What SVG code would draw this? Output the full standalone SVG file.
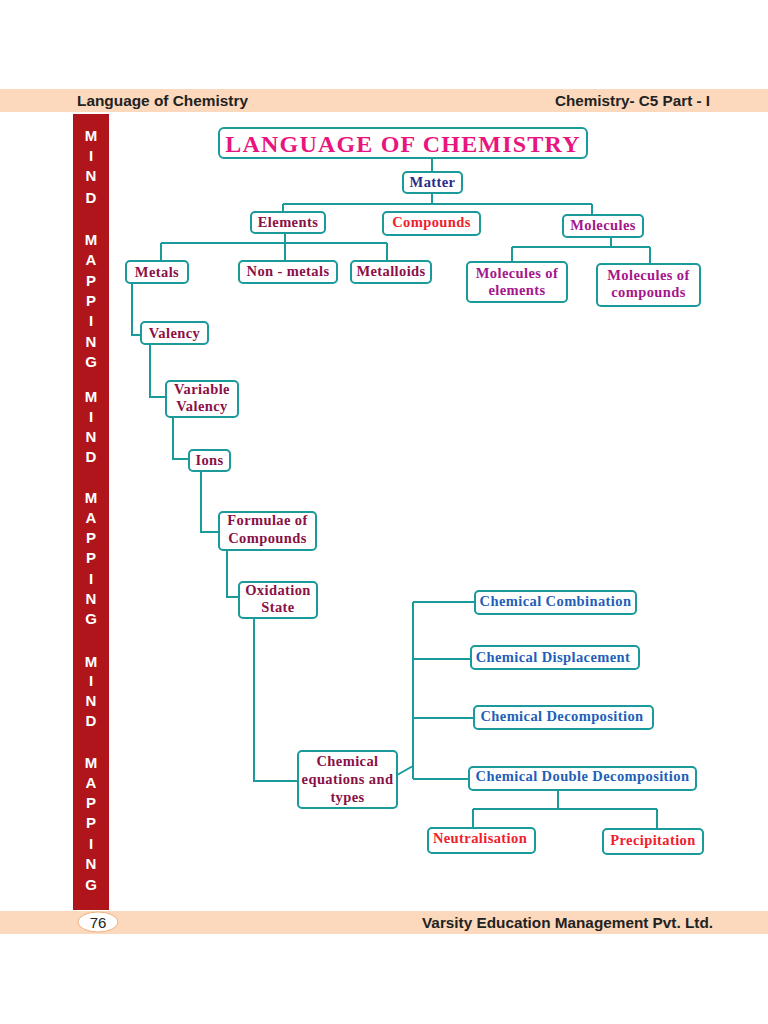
<svg xmlns="http://www.w3.org/2000/svg" width="768" height="1024" viewBox="0 0 768 1024">
<style>
.bx{fill:#fff;stroke:#1a9a9a;stroke-width:2}
.ln{fill:none;stroke:#1a9a9a;stroke-width:2}
.t{font-family:"Liberation Serif","Times New Roman",serif;font-weight:bold;font-size:14.5px;letter-spacing:0.4px;text-anchor:middle}
.mr{fill:#8b1045}
.rd{fill:#f0202c}
.mg{fill:#a5168c}
.bl{fill:#1f5fb8}
.nv{fill:#2b2b8c}
.hd{font-family:"Liberation Sans",Arial,sans-serif;font-weight:bold;font-size:15px;fill:#222}
.sd{font-family:"Liberation Sans",Arial,sans-serif;font-weight:bold;font-size:15px;fill:#fff;text-anchor:middle}
</style>
<rect width="768" height="1024" fill="#fff"/>
<rect x="0" y="89" width="768" height="23" fill="#fcd9bc"/>
<text class="hd" x="77" y="106" textLength="171" lengthAdjust="spacingAndGlyphs">Language of Chemistry</text>
<text class="hd" x="555" y="106" textLength="155" lengthAdjust="spacingAndGlyphs">Chemistry- C5 Part - I</text>
<rect x="0" y="911" width="768" height="23" fill="#fcd9bc"/>
<ellipse cx="98" cy="922" rx="20" ry="10" fill="#fff" stroke="#f0b080" stroke-width="1"/>
<text class="hd" x="98" y="928" text-anchor="middle" style="font-weight:normal">76</text>
<text class="hd" x="422" y="928" textLength="291" lengthAdjust="spacingAndGlyphs">Varsity Education Management Pvt. Ltd.</text>
<g id="sidebar">
<rect x="73" y="114" width="36" height="796" fill="#b0151b"/>
<text class="sd" x="91" y="141">M</text><text class="sd" x="91" y="161">I</text><text class="sd" x="91" y="181">N</text><text class="sd" x="91" y="203">D</text>
<text class="sd" x="91" y="245">M</text><text class="sd" x="91" y="265">A</text><text class="sd" x="91" y="286">P</text><text class="sd" x="91" y="306">P</text><text class="sd" x="91" y="326">I</text><text class="sd" x="91" y="347">N</text><text class="sd" x="91" y="367">G</text>
<text class="sd" x="91" y="402">M</text><text class="sd" x="91" y="422">I</text><text class="sd" x="91" y="442">N</text><text class="sd" x="91" y="462">D</text>
<text class="sd" x="91" y="503">M</text><text class="sd" x="91" y="523">A</text><text class="sd" x="91" y="543">P</text><text class="sd" x="91" y="563">P</text><text class="sd" x="91" y="584">I</text><text class="sd" x="91" y="604">N</text><text class="sd" x="91" y="624">G</text>
<text class="sd" x="91" y="667">M</text><text class="sd" x="91" y="686">I</text><text class="sd" x="91" y="706">N</text><text class="sd" x="91" y="726">D</text>
<text class="sd" x="91" y="768">M</text><text class="sd" x="91" y="788">A</text><text class="sd" x="91" y="808">P</text><text class="sd" x="91" y="828">P</text><text class="sd" x="91" y="849">I</text><text class="sd" x="91" y="869">N</text><text class="sd" x="91" y="890">G</text>
</g>
<g id="connectors">
<path class="ln" d="M432 158V172M432 193V204M283 204H592M283 204V212M592 204V215"/>
<path class="ln" d="M611 237V247M512 247H650M512 247V262M650 247V264"/>
<path class="ln" d="M285 233V243M161 243H387M161 243V261M285 243V261M387 243V261"/>
<path class="ln" d="M132 283V335H141"/>
<path class="ln" d="M150 344V397H166"/>
<path class="ln" d="M173 417V459H189"/>
<path class="ln" d="M201 471V532H219"/>
<path class="ln" d="M227 550V597H239"/>
<path class="ln" d="M254 618V781H298"/>
<path class="ln" d="M397 775L413 766M413 602V779M413 602H475M413 718H474M413 779H469"/>
<path class="ln" d="M413 659H471" stroke-width="1.2" stroke="#5cbcbc"/>
<path class="ln" d="M558 790V809M473 809H657M473 809V828M657 809V829"/>
</g>
<g id="title"><rect class="bx" x="219" y="128" width="368" height="30" rx="5"/><text class="t" x="403" y="152" fill="#e8157f" style="font-size:24px;letter-spacing:1.2px">LANGUAGE OF CHEMISTRY</text></g>
<g id="matter"><rect class="bx" x="403" y="172" width="59" height="21" rx="4"/><text class="t nv" x="432.5" y="187">Matter</text></g>
<g id="elements"><rect class="bx" x="251" y="212" width="74" height="21" rx="4"/><text class="t mr" x="288" y="227">Elements</text></g>
<g id="compounds"><rect class="bx" x="383" y="212" width="97" height="23" rx="4"/><text class="t rd" x="431.5" y="227">Compounds</text></g>
<g id="molecules"><rect class="bx" x="563" y="215" width="80" height="22" rx="4"/><text class="t mg" x="603" y="230">Molecules</text></g>
<g id="mol-elements"><rect class="bx" x="467" y="262" width="100" height="40" rx="4"/><text class="t mg" x="517" y="278">Molecules of</text><text class="t mg" x="517" y="295">elements</text></g>
<g id="mol-compounds"><rect class="bx" x="597" y="264" width="103" height="42" rx="4"/><text class="t mg" x="648.5" y="280">Molecules of</text><text class="t mg" x="648.5" y="297">compounds</text></g>
<g id="metals"><rect class="bx" x="126" y="261" width="62" height="22" rx="4"/><text class="t mr" x="157" y="277">Metals</text></g>
<g id="nonmetals"><rect class="bx" x="239" y="261" width="98" height="22" rx="4"/><text class="t mr" x="288" y="276">Non - metals</text></g>
<g id="metalloids"><rect class="bx" x="351" y="261" width="80" height="22" rx="4"/><text class="t mr" x="391" y="276">Metalloids</text></g>
<g id="valency"><rect class="bx" x="141" y="322" width="67" height="22" rx="4"/><text class="t mr" x="174.5" y="338">Valency</text></g>
<g id="variable-valency"><rect class="bx" x="166" y="381" width="72" height="36" rx="4"/><text class="t mr" x="202" y="394">Variable</text><text class="t mr" x="202" y="411">Valency</text></g>
<g id="ions"><rect class="bx" x="189" y="450" width="41" height="21" rx="4"/><text class="t mr" x="209.5" y="465">Ions</text></g>
<g id="formulae"><rect class="bx" x="219" y="512" width="97" height="38" rx="4"/><text class="t mr" x="267.5" y="525">Formulae of</text><text class="t mr" x="267.5" y="543">Compounds</text></g>
<g id="oxidation"><rect class="bx" x="239" y="582" width="78" height="36" rx="4"/><text class="t mr" x="278" y="595">Oxidation</text><text class="t mr" x="278" y="612">State</text></g>
<g id="chem-eq"><rect class="bx" x="298" y="751" width="99" height="57" rx="4"/><text class="t mr" x="347.5" y="766">Chemical</text><text class="t mr" x="347.5" y="784">equations and</text><text class="t mr" x="347.5" y="802">types</text></g>
<g id="combination"><rect class="bx" x="475" y="591" width="161" height="23" rx="4"/><text class="t bl" x="555.5" y="606">Chemical Combination</text></g>
<g id="displacement"><rect class="bx" x="471" y="646" width="168" height="23" rx="4"/><text class="t bl" x="553" y="662">Chemical Displacement</text></g>
<g id="decomposition"><rect class="bx" x="474" y="706" width="179" height="23" rx="4"/><text class="t bl" x="562" y="721">Chemical Decomposition</text></g>
<g id="double-decomposition"><rect class="bx" x="469" y="767" width="227" height="23" rx="4"/><text class="t bl" x="582.5" y="781">Chemical Double Decomposition</text></g>
<g id="neutralisation"><rect class="bx" x="428" y="828" width="107" height="25" rx="4"/><text class="t rd" x="480" y="843">Neutralisation</text></g>
<g id="precipitation"><rect class="bx" x="603" y="829" width="100" height="25" rx="4"/><text class="t rd" x="653" y="845">Precipitation</text></g>
</svg>
